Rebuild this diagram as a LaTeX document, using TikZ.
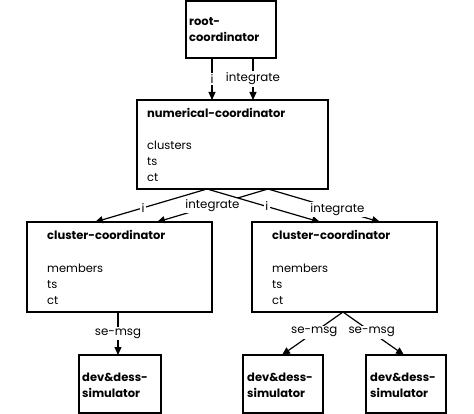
\documentclass[tikz,border=0pt]{standalone}
\usepackage{fontspec}
\setmainfont{Poppins}
\usetikzlibrary{arrows.meta}
\begin{document}
\begin{tikzpicture}[x=1pt,y=-1pt,
  box/.style={draw, line width=1.2pt, rectangle, inner sep=0pt, outer sep=0pt, anchor=north west},
  txt/.style={anchor=base west, align=left, inner sep=0pt, font=\fontsize{11.5}{16}\selectfont},
  conn/.style={line width=1.2pt, -{Triangle[length=8pt,width=7pt]}},
  lab/.style={fill=white, inner sep=1.5pt, font=\fontsize{11.8}{12}\selectfont}]
\useasboundingbox (0,0) rectangle (474,414);
% boxes
\node[box, minimum width=90, minimum height=57] (root) at (186,1) {};
\node[box, minimum width=191, minimum height=89] (num) at (137,100) {};
\node[box, minimum width=185, minimum height=90] (cl) at (27,222) {};
\node[box, minimum width=185, minimum height=90] (cr) at (252,222) {};
\node[box, minimum width=82, minimum height=58] (s1) at (79,355) {};
\node[box, minimum width=80, minimum height=58] (s2) at (243,355) {};
\node[box, minimum width=80, minimum height=58] (s3) at (366,355) {};
% texts (anchored at the baseline of the last line)
\node[txt] (roott) at (189,42) {\textbf{root-}\\\textbf{coordinator}};
\node[txt] (numt) at (147,182) {\textbf{numerical-coordinator}\\[16pt]clusters\\ts\\ct};
\node[txt] (clt) at (47,304) {\textbf{cluster-coordinator}\\[17pt]members\\ts\\ct};
\node[txt] (crt) at (272,304) {\textbf{cluster-coordinator}\\[17pt]members\\ts\\ct};
\node[txt] (s1t) at (82,397) {\textbf{dev\&dess-}\\\textbf{simulator}};
\node[txt] (s2t) at (247,397) {\textbf{dev\&dess-}\\\textbf{simulator}};
\node[txt] (s3t) at (370,397) {\textbf{dev\&dess-}\\\textbf{simulator}};
% connector end points
\coordinate (ra) at (212,58);
\coordinate (rb) at (253,58);
\coordinate (na) at (207,189);
\coordinate (nb) at (268,189);
\coordinate (cla) at (95,222);
\coordinate (clb) at (157,222);
\coordinate (cra) at (320,222);
\coordinate (crb) at (380,222);
\coordinate (clo) at (118,312);
\coordinate (cro) at (343,312);
% connectors
\draw[conn] (ra) -- (ra |- num.north) node[lab, midway] {i};
\draw[conn] (rb) -- (rb |- num.north) node[lab, midway] {integrate};
\draw[conn] (na) -- (cla) node[lab, pos=0.57] {i};
\draw[conn] (nb) -- (clb) node[lab, pos=0.5] {integrate};
\draw[conn] (na) -- (cra) node[lab, pos=0.53] {i};
\draw[conn] (nb) -- (crb) node[lab, pos=0.62] {integrate};
\draw[conn] (clo) -- (clo |- s1.north) node[lab, midway] {se-msg};
\draw[conn] (cro) -- (s2.north -| 282,0) node[lab, pos=0.47] {se-msg};
\draw[conn] (cro) -- (s3.north -| 404,0) node[lab, pos=0.47] {se-msg};
\end{tikzpicture}
\end{document}
